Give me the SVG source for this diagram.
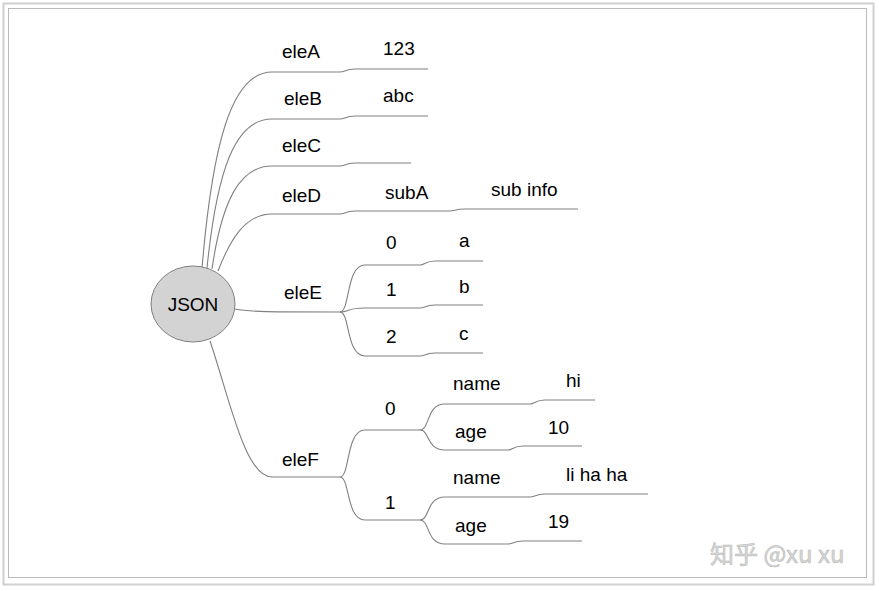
<svg xmlns="http://www.w3.org/2000/svg" width="879" height="591" viewBox="0 0 879 591">
<style>
.e{fill:none;stroke:#808080;stroke-width:1.1}
text{font-family:"Liberation Sans",Arial,sans-serif;font-size:19px;fill:#000}
</style>
<rect x="0" y="0" width="879" height="591" fill="#fff"/>
<rect x="3.5" y="3.5" width="870" height="581" fill="none" stroke="#d0d0d0" stroke-width="2"/>
<rect x="8.5" y="8.5" width="858" height="569" fill="none" stroke="#bbb"/>
<g id="connectors">
<path class="e" d="M202,268 C212,150 230,72 272,72 L340,72 C345,72 345,69 355,69 L428,69"/>
<path class="e" d="M207,268 C217,170 235,119 272,119 L340,119 C345,119 345,116 355,116 L428,116"/>
<path class="e" d="M212,269 C222,200 240,166 272,166 L340,166 C345,166 345,163 355,163 L411,163"/>
<path class="e" d="M218,271 C230,240 245,214 272,214 L340,214 C345,214 345,211 355,211 L450,211 C455,211 455,209 465,209 L578,209"/>
<path class="e" d="M235,309 C250,312 270,312 340,312"/>
<path class="e" d="M340,312 C350,312 346,265 365,265 L420,265 C425,265 425,261 435,261 L483,261"/>
<path class="e" d="M340,312 C350,312 346,308 365,308 L420,308 C425,308 425,305 435,305 L483,305"/>
<path class="e" d="M340,312 C350,312 346,356 365,356 L420,356 C425,356 425,353 435,353 L483,353"/>
<path class="e" d="M210,341 C230,400 245,477 272,477 L340,477"/>
<path class="e" d="M340,477 C350,477 346,430 365,430 L420,430"/>
<path class="e" d="M340,477 C350,477 346,520 365,520 L420,520"/>
<path class="e" d="M420,430 C430,430 426,404 445,404 L530,404 C535,404 535,400 545,400 L595,400"/>
<path class="e" d="M420,430 C430,430 426,450 445,450 L508,450 C513,450 513,446 523,446 L582,446"/>
<path class="e" d="M420,520 C430,520 426,497 445,497 L530,497 C535,497 535,494 545,494 L648,494"/>
<path class="e" d="M420,520 C430,520 426,544 445,544 L508,544 C513,544 513,541 523,541 L582,541"/>
</g>
<g id="json"><ellipse cx="193" cy="304" rx="42" ry="38" fill="#d3d3d3" stroke="#808080"/><text x="193" y="311" text-anchor="middle">JSON</text></g>
<g id="eleA"><text x="282" y="58">eleA</text><text x="383" y="55">123</text></g>
<g id="eleB"><text x="284" y="105">eleB</text><text x="383" y="102">abc</text></g>
<g id="eleC"><text x="282" y="152">eleC</text></g>
<g id="eleD"><text x="282" y="202">eleD</text><text x="385" y="199">subA</text><text x="491" y="196">sub info</text></g>
<g id="eleE"><text x="284" y="299">eleE</text><text x="386" y="249">0</text><text x="459" y="247">a</text><text x="386" y="296">1</text><text x="459" y="293">b</text><text x="386" y="343">2</text><text x="459" y="340">c</text></g>
<g id="eleF"><text x="282" y="466">eleF</text><text x="385" y="415">0</text><text x="385" y="509">1</text>
<text x="453" y="390">name</text><text x="566" y="387">hi</text><text x="455" y="438">age</text><text x="548" y="434">10</text>
<text x="453" y="484">name</text><text x="566" y="481">li ha ha</text><text x="455" y="532">age</text><text x="548" y="528">19</text></g>
<text x="710" y="563" style="font-family:'Noto Sans CJK SC','Liberation Sans',sans-serif;font-size:24px;fill:#d8d8d8;stroke:#bbb;stroke-width:0.6">知乎 @xu xu</text>
</svg>
